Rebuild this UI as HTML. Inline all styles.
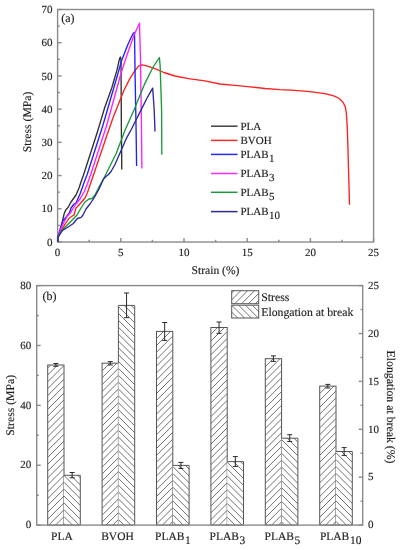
<!DOCTYPE html>
<html><head><meta charset="utf-8"><title>Figure</title>
<style>
html,body{margin:0;padding:0;background:#fff;}
body{width:401px;height:550px;overflow:hidden;}
svg{display:block;}
text{font-family:"Liberation Serif","Times New Roman",serif;font-size:11px;fill:#1e1e1e;stroke:#1e1e1e;stroke-width:0.15px;text-rendering:geometricPrecision;}
</style></head>
<body>
<svg width="401" height="550" viewBox="0 0 401 550">
<rect x="0" y="0" width="401" height="550" fill="#fff"/>
<rect x="57.6" y="9.5" width="316" height="232.5" fill="none" stroke="#8a8a8a" stroke-width="1.4"/>
<line x1="57.6" y1="242" x2="61.6" y2="242" stroke="#8a8a8a" stroke-width="1.4"/>
<line x1="57.6" y1="225.39" x2="59.8" y2="225.39" stroke="#8a8a8a" stroke-width="1.4"/>
<line x1="57.6" y1="208.79" x2="61.6" y2="208.79" stroke="#8a8a8a" stroke-width="1.4"/>
<line x1="57.6" y1="192.18" x2="59.8" y2="192.18" stroke="#8a8a8a" stroke-width="1.4"/>
<line x1="57.6" y1="175.57" x2="61.6" y2="175.57" stroke="#8a8a8a" stroke-width="1.4"/>
<line x1="57.6" y1="158.96" x2="59.8" y2="158.96" stroke="#8a8a8a" stroke-width="1.4"/>
<line x1="57.6" y1="142.36" x2="61.6" y2="142.36" stroke="#8a8a8a" stroke-width="1.4"/>
<line x1="57.6" y1="125.75" x2="59.8" y2="125.75" stroke="#8a8a8a" stroke-width="1.4"/>
<line x1="57.6" y1="109.14" x2="61.6" y2="109.14" stroke="#8a8a8a" stroke-width="1.4"/>
<line x1="57.6" y1="92.54" x2="59.8" y2="92.54" stroke="#8a8a8a" stroke-width="1.4"/>
<line x1="57.6" y1="75.93" x2="61.6" y2="75.93" stroke="#8a8a8a" stroke-width="1.4"/>
<line x1="57.6" y1="59.32" x2="59.8" y2="59.32" stroke="#8a8a8a" stroke-width="1.4"/>
<line x1="57.6" y1="42.71" x2="61.6" y2="42.71" stroke="#8a8a8a" stroke-width="1.4"/>
<line x1="57.6" y1="26.11" x2="59.8" y2="26.11" stroke="#8a8a8a" stroke-width="1.4"/>
<line x1="57.6" y1="9.5" x2="61.6" y2="9.5" stroke="#8a8a8a" stroke-width="1.4"/>
<line x1="57.6" y1="242" x2="57.6" y2="238" stroke="#8a8a8a" stroke-width="1.4"/>
<line x1="89.2" y1="242" x2="89.2" y2="239.8" stroke="#8a8a8a" stroke-width="1.4"/>
<line x1="120.8" y1="242" x2="120.8" y2="238" stroke="#8a8a8a" stroke-width="1.4"/>
<line x1="152.4" y1="242" x2="152.4" y2="239.8" stroke="#8a8a8a" stroke-width="1.4"/>
<line x1="184" y1="242" x2="184" y2="238" stroke="#8a8a8a" stroke-width="1.4"/>
<line x1="215.6" y1="242" x2="215.6" y2="239.8" stroke="#8a8a8a" stroke-width="1.4"/>
<line x1="247.2" y1="242" x2="247.2" y2="238" stroke="#8a8a8a" stroke-width="1.4"/>
<line x1="278.8" y1="242" x2="278.8" y2="239.8" stroke="#8a8a8a" stroke-width="1.4"/>
<line x1="310.4" y1="242" x2="310.4" y2="238" stroke="#8a8a8a" stroke-width="1.4"/>
<line x1="342" y1="242" x2="342" y2="239.8" stroke="#8a8a8a" stroke-width="1.4"/>
<line x1="373.6" y1="242" x2="373.6" y2="238" stroke="#8a8a8a" stroke-width="1.4"/>
<text x="52.5" y="245.6" text-anchor="end">0</text>
<text x="52.5" y="212.39" text-anchor="end">10</text>
<text x="52.5" y="179.17" text-anchor="end">20</text>
<text x="52.5" y="145.96" text-anchor="end">30</text>
<text x="52.5" y="112.74" text-anchor="end">40</text>
<text x="52.5" y="79.53" text-anchor="end">50</text>
<text x="52.5" y="46.31" text-anchor="end">60</text>
<text x="52.5" y="13.1" text-anchor="end">70</text>
<text x="57.6" y="256.2" text-anchor="middle">0</text>
<text x="120.8" y="256.2" text-anchor="middle">5</text>
<text x="184" y="256.2" text-anchor="middle">10</text>
<text x="247.2" y="256.2" text-anchor="middle">15</text>
<text x="310.4" y="256.2" text-anchor="middle">20</text>
<text x="373.6" y="256.2" text-anchor="middle">25</text>
<text x="215.5" y="274" text-anchor="middle" style="font-size:11.6px">Strain (%)</text>
<text transform="translate(31.1,122) rotate(-90)" text-anchor="middle" style="font-size:11.7px">Stress (MPa)</text>
<text x="61.2" y="22.4" style="font-size:12px">(a)</text>
<polyline points="58,242 58,237.2 60.5,229 62.5,221.1 64.3,213.2 65.8,209.9 68,207.5 71,202 76,195 79,188 82,179 83.5,175 98,130 104.5,108.2 111.8,87.8 116.9,70.4 119.6,58.5 120.4,57 121,60 121.4,130 121.8,169.4" fill="none" stroke="#303030" stroke-width="1.35" stroke-linejoin="round"/>
<polyline points="58,242 58,237.2 61,231 64,225.9 68.8,218.5 72.6,215.8 74,215 76,208 79,205 85,198 87.5,192.5 90,185 93.5,175 107,135 113.2,117.3 118.6,103.7 124.1,90 129.6,79.1 134.3,71.6 138.4,66.1 141.8,64.8 145.9,65.7 154.9,68.7 163.9,72.5 175,76 190,78.9 205,80.9 220,84 235,85.3 250,86.8 265,88.5 280,89.7 295,90.3 310,91.7 325,93.7 330,94.9 334.5,96.2 339.2,98.5 343,102.2 345.3,106.9 346.3,112.6 347.2,125.8 347.7,140 349.5,204.7" fill="none" stroke="#ff2020" stroke-width="1.35" stroke-linejoin="round"/>
<polyline points="58,242 58,237.2 60.5,228 62.9,220.7 66.2,217 69.6,212.5 71,208 74,204 76,203 80,194 82.5,187 85,180 87,175 103,125 117.5,75 121.8,60 127.7,45 131.3,37 133.4,33 134.5,32.8 135.1,75 136.1,130 136.6,166" fill="none" stroke="#2020ff" stroke-width="1.35" stroke-linejoin="round"/>
<polyline points="58,242 58,237.2 60.8,229 63.2,223.7 67,216.2 71.1,212.1 72,210 76,204 80,199 84,192 87,185 90.5,175 106.8,125 120.5,75 125.3,60 134,35 139.5,23.2 140.5,60 141.5,130 141.9,168.6" fill="none" stroke="#ff20ff" stroke-width="1.35" stroke-linejoin="round"/>
<polyline points="58,242 58,237.2 61,231.5 64.7,227.4 70,222.2 74.4,217.7 77,215 81,208 85,202 89,199 92,198.5 95,195 99,187 103.5,179 116.2,153.5 125,130.2 134,110 144.4,84.4 153.4,66.5 159.4,57.5 160.1,65 161.6,110 161.8,154.7" fill="none" stroke="#1a9a3a" stroke-width="1.35" stroke-linejoin="round"/>
<polyline points="58,242 58,237.2 62.5,230.4 68.5,226.7 73,223.7 77.4,218.5 81.2,217.3 83,215 86,209 90,204 94,198 99,189 103.5,179 106,176.5 108.5,174.5 111,171.5 115,164.5 122.4,147.4 126.1,138.9 131.4,129.2 135.9,120.3 141.4,109.4 146.8,98.5 150.5,91.8 152.7,88.2 154.2,110 155,131.6" fill="none" stroke="#2a2a9a" stroke-width="1.35" stroke-linejoin="round"/>
<line x1="211" y1="126.2" x2="237.5" y2="126.2" stroke="#404040" stroke-width="1.5"/>
<text x="240.5" y="129.8">PLA</text>
<line x1="211" y1="140.4" x2="237.5" y2="140.4" stroke="#ff2a2a" stroke-width="1.5"/>
<text x="240.5" y="144">BVOH</text>
<line x1="211" y1="154.4" x2="237.5" y2="154.4" stroke="#2a2aff" stroke-width="1.5"/>
<text x="240.5" y="158">PLAB<tspan dx="0.3" dy="4">1</tspan></text>
<line x1="211" y1="173.5" x2="237.5" y2="173.5" stroke="#ff2aff" stroke-width="1.5"/>
<text x="240.5" y="177.1">PLAB<tspan dx="0.3" dy="4">3</tspan></text>
<line x1="211" y1="192.3" x2="237.5" y2="192.3" stroke="#1a9a3a" stroke-width="1.5"/>
<text x="240.5" y="195.9">PLAB<tspan dx="0.3" dy="4">5</tspan></text>
<line x1="211" y1="211.6" x2="237.5" y2="211.6" stroke="#2a2a9a" stroke-width="1.5"/>
<text x="240.5" y="215.2">PLAB<tspan dx="0.3" dy="4">10</tspan></text>
<defs><clipPath id="c0s"><rect x="47.7" y="365" width="16.3" height="160.1"/></clipPath><clipPath id="c0e"><rect x="64" y="475.3" width="16.3" height="49.8"/></clipPath><clipPath id="c1s"><rect x="102.1" y="363.2" width="16.3" height="161.9"/></clipPath><clipPath id="c1e"><rect x="118.4" y="305.4" width="16.3" height="219.7"/></clipPath><clipPath id="c2s"><rect x="156.5" y="331.4" width="16.3" height="193.7"/></clipPath><clipPath id="c2e"><rect x="172.8" y="465.4" width="16.3" height="59.7"/></clipPath><clipPath id="c3s"><rect x="210.9" y="327.5" width="16.3" height="197.6"/></clipPath><clipPath id="c3e"><rect x="227.2" y="461.6" width="16.3" height="63.5"/></clipPath><clipPath id="c4s"><rect x="265.3" y="358.7" width="16.3" height="166.4"/></clipPath><clipPath id="c4e"><rect x="281.6" y="438.2" width="16.3" height="86.9"/></clipPath><clipPath id="c5s"><rect x="319.7" y="386.1" width="16.3" height="139"/></clipPath><clipPath id="c5e"><rect x="336" y="451.5" width="16.3" height="73.6"/></clipPath></defs>
<rect x="47.7" y="365" width="16.3" height="160.1" fill="#fff"/><path clip-path="url(#c0s)" d="M64,248.7L34,278.7M64,255.57L34,285.57M64,262.44L34,292.44M64,269.31L34,299.31M64,276.18L34,306.18M64,283.05L34,313.05M64,289.92L34,319.92M64,296.79L34,326.79M64,303.66L34,333.66M64,310.53L34,340.53M64,317.4L34,347.4M64,324.27L34,354.27M64,331.14L34,361.14M64,338.01L34,368.01M64,344.88L34,374.88M64,351.75L34,381.75M64,358.62L34,388.62M64,365.49L34,395.49M64,372.36L34,402.36M64,379.23L34,409.23M64,386.1L34,416.1M64,392.97L34,422.97M64,399.84L34,429.84M64,406.71L34,436.71M64,413.58L34,443.58M64,420.45L34,450.45M64,427.32L34,457.32M64,434.19L34,464.19M64,441.06L34,471.06M64,447.93L34,477.93M64,454.8L34,484.8M64,461.67L34,491.67M64,468.54L34,498.54M64,475.41L34,505.41M64,482.28L34,512.28M64,489.15L34,519.15M64,496.02L34,526.02M64,502.89L34,532.89M64,509.76L34,539.76M64,516.63L34,546.63M64,523.5L34,553.5M64,530.37L34,560.37M64,537.24L34,567.24" stroke="#606060" stroke-width="0.9" fill="none"/><rect x="47.7" y="365" width="16.3" height="160.1" fill="none" stroke="#555555" stroke-width="1"/><rect x="64" y="475.3" width="16.3" height="49.8" fill="#fff"/><path clip-path="url(#c0e)" d="M64,248.7L94,278.7M64,255.57L94,285.57M64,262.44L94,292.44M64,269.31L94,299.31M64,276.18L94,306.18M64,283.05L94,313.05M64,289.92L94,319.92M64,296.79L94,326.79M64,303.66L94,333.66M64,310.53L94,340.53M64,317.4L94,347.4M64,324.27L94,354.27M64,331.14L94,361.14M64,338.01L94,368.01M64,344.88L94,374.88M64,351.75L94,381.75M64,358.62L94,388.62M64,365.49L94,395.49M64,372.36L94,402.36M64,379.23L94,409.23M64,386.1L94,416.1M64,392.97L94,422.97M64,399.84L94,429.84M64,406.71L94,436.71M64,413.58L94,443.58M64,420.45L94,450.45M64,427.32L94,457.32M64,434.19L94,464.19M64,441.06L94,471.06M64,447.93L94,477.93M64,454.8L94,484.8M64,461.67L94,491.67M64,468.54L94,498.54M64,475.41L94,505.41M64,482.28L94,512.28M64,489.15L94,519.15M64,496.02L94,526.02M64,502.89L94,532.89M64,509.76L94,539.76M64,516.63L94,546.63M64,523.5L94,553.5M64,530.37L94,560.37M64,537.24L94,567.24" stroke="#606060" stroke-width="0.9" fill="none"/><path d="M64,475.3H80.3V525.1H64" fill="none" stroke="#555555" stroke-width="1" stroke-linejoin="miter"/><path d="M55.85,363.5V366.3M53.35,363.5H58.35M53.35,366.3H58.35" stroke="#2a2a2a" stroke-width="1" fill="none"/><path d="M72.15,472.5V477.8M69.65,472.5H74.65M69.65,477.8H74.65" stroke="#2a2a2a" stroke-width="1" fill="none"/><rect x="102.1" y="363.2" width="16.3" height="161.9" fill="#fff"/><path clip-path="url(#c1s)" d="M118.4,244.7L88.4,274.7M118.4,251.57L88.4,281.57M118.4,258.44L88.4,288.44M118.4,265.31L88.4,295.31M118.4,272.18L88.4,302.18M118.4,279.05L88.4,309.05M118.4,285.92L88.4,315.92M118.4,292.79L88.4,322.79M118.4,299.66L88.4,329.66M118.4,306.53L88.4,336.53M118.4,313.4L88.4,343.4M118.4,320.27L88.4,350.27M118.4,327.14L88.4,357.14M118.4,334.01L88.4,364.01M118.4,340.88L88.4,370.88M118.4,347.75L88.4,377.75M118.4,354.62L88.4,384.62M118.4,361.49L88.4,391.49M118.4,368.36L88.4,398.36M118.4,375.23L88.4,405.23M118.4,382.1L88.4,412.1M118.4,388.97L88.4,418.97M118.4,395.84L88.4,425.84M118.4,402.71L88.4,432.71M118.4,409.58L88.4,439.58M118.4,416.45L88.4,446.45M118.4,423.32L88.4,453.32M118.4,430.19L88.4,460.19M118.4,437.06L88.4,467.06M118.4,443.93L88.4,473.93M118.4,450.8L88.4,480.8M118.4,457.67L88.4,487.67M118.4,464.54L88.4,494.54M118.4,471.41L88.4,501.41M118.4,478.28L88.4,508.28M118.4,485.15L88.4,515.15M118.4,492.02L88.4,522.02M118.4,498.89L88.4,528.89M118.4,505.76L88.4,535.76M118.4,512.63L88.4,542.63M118.4,519.5L88.4,549.5M118.4,526.37L88.4,556.37M118.4,533.24L88.4,563.24" stroke="#606060" stroke-width="0.9" fill="none"/><rect x="102.1" y="363.2" width="16.3" height="161.9" fill="none" stroke="#555555" stroke-width="1"/><rect x="118.4" y="305.4" width="16.3" height="219.7" fill="#fff"/><path clip-path="url(#c1e)" d="M118.4,244.7L148.4,274.7M118.4,251.57L148.4,281.57M118.4,258.44L148.4,288.44M118.4,265.31L148.4,295.31M118.4,272.18L148.4,302.18M118.4,279.05L148.4,309.05M118.4,285.92L148.4,315.92M118.4,292.79L148.4,322.79M118.4,299.66L148.4,329.66M118.4,306.53L148.4,336.53M118.4,313.4L148.4,343.4M118.4,320.27L148.4,350.27M118.4,327.14L148.4,357.14M118.4,334.01L148.4,364.01M118.4,340.88L148.4,370.88M118.4,347.75L148.4,377.75M118.4,354.62L148.4,384.62M118.4,361.49L148.4,391.49M118.4,368.36L148.4,398.36M118.4,375.23L148.4,405.23M118.4,382.1L148.4,412.1M118.4,388.97L148.4,418.97M118.4,395.84L148.4,425.84M118.4,402.71L148.4,432.71M118.4,409.58L148.4,439.58M118.4,416.45L148.4,446.45M118.4,423.32L148.4,453.32M118.4,430.19L148.4,460.19M118.4,437.06L148.4,467.06M118.4,443.93L148.4,473.93M118.4,450.8L148.4,480.8M118.4,457.67L148.4,487.67M118.4,464.54L148.4,494.54M118.4,471.41L148.4,501.41M118.4,478.28L148.4,508.28M118.4,485.15L148.4,515.15M118.4,492.02L148.4,522.02M118.4,498.89L148.4,528.89M118.4,505.76L148.4,535.76M118.4,512.63L148.4,542.63M118.4,519.5L148.4,549.5M118.4,526.37L148.4,556.37M118.4,533.24L148.4,563.24" stroke="#606060" stroke-width="0.9" fill="none"/><path d="M118.4,363.2V305.4H134.7V525.1H118.4" fill="none" stroke="#555555" stroke-width="1" stroke-linejoin="miter"/><path d="M110.25,361.6V365M107.75,361.6H112.75M107.75,365H112.75" stroke="#2a2a2a" stroke-width="1" fill="none"/><path d="M126.55,293V317.7M124.05,293H129.05M124.05,317.7H129.05" stroke="#2a2a2a" stroke-width="1" fill="none"/><rect x="156.5" y="331.4" width="16.3" height="193.7" fill="#fff"/><path clip-path="url(#c2s)" d="M172.8,246.7L142.8,276.7M172.8,253.57L142.8,283.57M172.8,260.44L142.8,290.44M172.8,267.31L142.8,297.31M172.8,274.18L142.8,304.18M172.8,281.05L142.8,311.05M172.8,287.92L142.8,317.92M172.8,294.79L142.8,324.79M172.8,301.66L142.8,331.66M172.8,308.53L142.8,338.53M172.8,315.4L142.8,345.4M172.8,322.27L142.8,352.27M172.8,329.14L142.8,359.14M172.8,336.01L142.8,366.01M172.8,342.88L142.8,372.88M172.8,349.75L142.8,379.75M172.8,356.62L142.8,386.62M172.8,363.49L142.8,393.49M172.8,370.36L142.8,400.36M172.8,377.23L142.8,407.23M172.8,384.1L142.8,414.1M172.8,390.97L142.8,420.97M172.8,397.84L142.8,427.84M172.8,404.71L142.8,434.71M172.8,411.58L142.8,441.58M172.8,418.45L142.8,448.45M172.8,425.32L142.8,455.32M172.8,432.19L142.8,462.19M172.8,439.06L142.8,469.06M172.8,445.93L142.8,475.93M172.8,452.8L142.8,482.8M172.8,459.67L142.8,489.67M172.8,466.54L142.8,496.54M172.8,473.41L142.8,503.41M172.8,480.28L142.8,510.28M172.8,487.15L142.8,517.15M172.8,494.02L142.8,524.02M172.8,500.89L142.8,530.89M172.8,507.76L142.8,537.76M172.8,514.63L142.8,544.63M172.8,521.5L142.8,551.5M172.8,528.37L142.8,558.37M172.8,535.24L142.8,565.24" stroke="#606060" stroke-width="0.9" fill="none"/><rect x="156.5" y="331.4" width="16.3" height="193.7" fill="none" stroke="#555555" stroke-width="1"/><rect x="172.8" y="465.4" width="16.3" height="59.7" fill="#fff"/><path clip-path="url(#c2e)" d="M172.8,246.7L202.8,276.7M172.8,253.57L202.8,283.57M172.8,260.44L202.8,290.44M172.8,267.31L202.8,297.31M172.8,274.18L202.8,304.18M172.8,281.05L202.8,311.05M172.8,287.92L202.8,317.92M172.8,294.79L202.8,324.79M172.8,301.66L202.8,331.66M172.8,308.53L202.8,338.53M172.8,315.4L202.8,345.4M172.8,322.27L202.8,352.27M172.8,329.14L202.8,359.14M172.8,336.01L202.8,366.01M172.8,342.88L202.8,372.88M172.8,349.75L202.8,379.75M172.8,356.62L202.8,386.62M172.8,363.49L202.8,393.49M172.8,370.36L202.8,400.36M172.8,377.23L202.8,407.23M172.8,384.1L202.8,414.1M172.8,390.97L202.8,420.97M172.8,397.84L202.8,427.84M172.8,404.71L202.8,434.71M172.8,411.58L202.8,441.58M172.8,418.45L202.8,448.45M172.8,425.32L202.8,455.32M172.8,432.19L202.8,462.19M172.8,439.06L202.8,469.06M172.8,445.93L202.8,475.93M172.8,452.8L202.8,482.8M172.8,459.67L202.8,489.67M172.8,466.54L202.8,496.54M172.8,473.41L202.8,503.41M172.8,480.28L202.8,510.28M172.8,487.15L202.8,517.15M172.8,494.02L202.8,524.02M172.8,500.89L202.8,530.89M172.8,507.76L202.8,537.76M172.8,514.63L202.8,544.63M172.8,521.5L202.8,551.5M172.8,528.37L202.8,558.37M172.8,535.24L202.8,565.24" stroke="#606060" stroke-width="0.9" fill="none"/><path d="M172.8,465.4H189.1V525.1H172.8" fill="none" stroke="#555555" stroke-width="1" stroke-linejoin="miter"/><path d="M164.65,322.5V340.4M162.15,322.5H167.15M162.15,340.4H167.15" stroke="#2a2a2a" stroke-width="1" fill="none"/><path d="M180.95,462.4V468.4M178.45,462.4H183.45M178.45,468.4H183.45" stroke="#2a2a2a" stroke-width="1" fill="none"/><rect x="210.9" y="327.5" width="16.3" height="197.6" fill="#fff"/><path clip-path="url(#c3s)" d="M227.2,249.2L197.2,279.2M227.2,256.07L197.2,286.07M227.2,262.94L197.2,292.94M227.2,269.81L197.2,299.81M227.2,276.68L197.2,306.68M227.2,283.55L197.2,313.55M227.2,290.42L197.2,320.42M227.2,297.29L197.2,327.29M227.2,304.16L197.2,334.16M227.2,311.03L197.2,341.03M227.2,317.9L197.2,347.9M227.2,324.77L197.2,354.77M227.2,331.64L197.2,361.64M227.2,338.51L197.2,368.51M227.2,345.38L197.2,375.38M227.2,352.25L197.2,382.25M227.2,359.12L197.2,389.12M227.2,365.99L197.2,395.99M227.2,372.86L197.2,402.86M227.2,379.73L197.2,409.73M227.2,386.6L197.2,416.6M227.2,393.47L197.2,423.47M227.2,400.34L197.2,430.34M227.2,407.21L197.2,437.21M227.2,414.08L197.2,444.08M227.2,420.95L197.2,450.95M227.2,427.82L197.2,457.82M227.2,434.69L197.2,464.69M227.2,441.56L197.2,471.56M227.2,448.43L197.2,478.43M227.2,455.3L197.2,485.3M227.2,462.17L197.2,492.17M227.2,469.04L197.2,499.04M227.2,475.91L197.2,505.91M227.2,482.78L197.2,512.78M227.2,489.65L197.2,519.65M227.2,496.52L197.2,526.52M227.2,503.39L197.2,533.39M227.2,510.26L197.2,540.26M227.2,517.13L197.2,547.13M227.2,524L197.2,554M227.2,530.87L197.2,560.87M227.2,537.74L197.2,567.74" stroke="#606060" stroke-width="0.9" fill="none"/><rect x="210.9" y="327.5" width="16.3" height="197.6" fill="none" stroke="#555555" stroke-width="1"/><rect x="227.2" y="461.6" width="16.3" height="63.5" fill="#fff"/><path clip-path="url(#c3e)" d="M227.2,249.2L257.2,279.2M227.2,256.07L257.2,286.07M227.2,262.94L257.2,292.94M227.2,269.81L257.2,299.81M227.2,276.68L257.2,306.68M227.2,283.55L257.2,313.55M227.2,290.42L257.2,320.42M227.2,297.29L257.2,327.29M227.2,304.16L257.2,334.16M227.2,311.03L257.2,341.03M227.2,317.9L257.2,347.9M227.2,324.77L257.2,354.77M227.2,331.64L257.2,361.64M227.2,338.51L257.2,368.51M227.2,345.38L257.2,375.38M227.2,352.25L257.2,382.25M227.2,359.12L257.2,389.12M227.2,365.99L257.2,395.99M227.2,372.86L257.2,402.86M227.2,379.73L257.2,409.73M227.2,386.6L257.2,416.6M227.2,393.47L257.2,423.47M227.2,400.34L257.2,430.34M227.2,407.21L257.2,437.21M227.2,414.08L257.2,444.08M227.2,420.95L257.2,450.95M227.2,427.82L257.2,457.82M227.2,434.69L257.2,464.69M227.2,441.56L257.2,471.56M227.2,448.43L257.2,478.43M227.2,455.3L257.2,485.3M227.2,462.17L257.2,492.17M227.2,469.04L257.2,499.04M227.2,475.91L257.2,505.91M227.2,482.78L257.2,512.78M227.2,489.65L257.2,519.65M227.2,496.52L257.2,526.52M227.2,503.39L257.2,533.39M227.2,510.26L257.2,540.26M227.2,517.13L257.2,547.13M227.2,524L257.2,554M227.2,530.87L257.2,560.87M227.2,537.74L257.2,567.74" stroke="#606060" stroke-width="0.9" fill="none"/><path d="M227.2,461.6H243.5V525.1H227.2" fill="none" stroke="#555555" stroke-width="1" stroke-linejoin="miter"/><path d="M219.05,322V333.4M216.55,322H221.55M216.55,333.4H221.55" stroke="#2a2a2a" stroke-width="1" fill="none"/><path d="M235.35,456.6V466.4M232.85,456.6H237.85M232.85,466.4H237.85" stroke="#2a2a2a" stroke-width="1" fill="none"/><rect x="265.3" y="358.7" width="16.3" height="166.4" fill="#fff"/><path clip-path="url(#c4s)" d="M281.6,247.2L251.6,277.2M281.6,254.07L251.6,284.07M281.6,260.94L251.6,290.94M281.6,267.81L251.6,297.81M281.6,274.68L251.6,304.68M281.6,281.55L251.6,311.55M281.6,288.42L251.6,318.42M281.6,295.29L251.6,325.29M281.6,302.16L251.6,332.16M281.6,309.03L251.6,339.03M281.6,315.9L251.6,345.9M281.6,322.77L251.6,352.77M281.6,329.64L251.6,359.64M281.6,336.51L251.6,366.51M281.6,343.38L251.6,373.38M281.6,350.25L251.6,380.25M281.6,357.12L251.6,387.12M281.6,363.99L251.6,393.99M281.6,370.86L251.6,400.86M281.6,377.73L251.6,407.73M281.6,384.6L251.6,414.6M281.6,391.47L251.6,421.47M281.6,398.34L251.6,428.34M281.6,405.21L251.6,435.21M281.6,412.08L251.6,442.08M281.6,418.95L251.6,448.95M281.6,425.82L251.6,455.82M281.6,432.69L251.6,462.69M281.6,439.56L251.6,469.56M281.6,446.43L251.6,476.43M281.6,453.3L251.6,483.3M281.6,460.17L251.6,490.17M281.6,467.04L251.6,497.04M281.6,473.91L251.6,503.91M281.6,480.78L251.6,510.78M281.6,487.65L251.6,517.65M281.6,494.52L251.6,524.52M281.6,501.39L251.6,531.39M281.6,508.26L251.6,538.26M281.6,515.13L251.6,545.13M281.6,522L251.6,552M281.6,528.87L251.6,558.87M281.6,535.74L251.6,565.74" stroke="#606060" stroke-width="0.9" fill="none"/><rect x="265.3" y="358.7" width="16.3" height="166.4" fill="none" stroke="#555555" stroke-width="1"/><rect x="281.6" y="438.2" width="16.3" height="86.9" fill="#fff"/><path clip-path="url(#c4e)" d="M281.6,247.2L311.6,277.2M281.6,254.07L311.6,284.07M281.6,260.94L311.6,290.94M281.6,267.81L311.6,297.81M281.6,274.68L311.6,304.68M281.6,281.55L311.6,311.55M281.6,288.42L311.6,318.42M281.6,295.29L311.6,325.29M281.6,302.16L311.6,332.16M281.6,309.03L311.6,339.03M281.6,315.9L311.6,345.9M281.6,322.77L311.6,352.77M281.6,329.64L311.6,359.64M281.6,336.51L311.6,366.51M281.6,343.38L311.6,373.38M281.6,350.25L311.6,380.25M281.6,357.12L311.6,387.12M281.6,363.99L311.6,393.99M281.6,370.86L311.6,400.86M281.6,377.73L311.6,407.73M281.6,384.6L311.6,414.6M281.6,391.47L311.6,421.47M281.6,398.34L311.6,428.34M281.6,405.21L311.6,435.21M281.6,412.08L311.6,442.08M281.6,418.95L311.6,448.95M281.6,425.82L311.6,455.82M281.6,432.69L311.6,462.69M281.6,439.56L311.6,469.56M281.6,446.43L311.6,476.43M281.6,453.3L311.6,483.3M281.6,460.17L311.6,490.17M281.6,467.04L311.6,497.04M281.6,473.91L311.6,503.91M281.6,480.78L311.6,510.78M281.6,487.65L311.6,517.65M281.6,494.52L311.6,524.52M281.6,501.39L311.6,531.39M281.6,508.26L311.6,538.26M281.6,515.13L311.6,545.13M281.6,522L311.6,552M281.6,528.87L311.6,558.87M281.6,535.74L311.6,565.74" stroke="#606060" stroke-width="0.9" fill="none"/><path d="M281.6,438.2H297.9V525.1H281.6" fill="none" stroke="#555555" stroke-width="1" stroke-linejoin="miter"/><path d="M273.45,355.9V361.4M270.95,355.9H275.95M270.95,361.4H275.95" stroke="#2a2a2a" stroke-width="1" fill="none"/><path d="M289.75,434.7V441.5M287.25,434.7H292.25M287.25,441.5H292.25" stroke="#2a2a2a" stroke-width="1" fill="none"/><rect x="319.7" y="386.1" width="16.3" height="139" fill="#fff"/><path clip-path="url(#c5s)" d="M336,246.7L306,276.7M336,253.57L306,283.57M336,260.44L306,290.44M336,267.31L306,297.31M336,274.18L306,304.18M336,281.05L306,311.05M336,287.92L306,317.92M336,294.79L306,324.79M336,301.66L306,331.66M336,308.53L306,338.53M336,315.4L306,345.4M336,322.27L306,352.27M336,329.14L306,359.14M336,336.01L306,366.01M336,342.88L306,372.88M336,349.75L306,379.75M336,356.62L306,386.62M336,363.49L306,393.49M336,370.36L306,400.36M336,377.23L306,407.23M336,384.1L306,414.1M336,390.97L306,420.97M336,397.84L306,427.84M336,404.71L306,434.71M336,411.58L306,441.58M336,418.45L306,448.45M336,425.32L306,455.32M336,432.19L306,462.19M336,439.06L306,469.06M336,445.93L306,475.93M336,452.8L306,482.8M336,459.67L306,489.67M336,466.54L306,496.54M336,473.41L306,503.41M336,480.28L306,510.28M336,487.15L306,517.15M336,494.02L306,524.02M336,500.89L306,530.89M336,507.76L306,537.76M336,514.63L306,544.63M336,521.5L306,551.5M336,528.37L306,558.37M336,535.24L306,565.24" stroke="#606060" stroke-width="0.9" fill="none"/><rect x="319.7" y="386.1" width="16.3" height="139" fill="none" stroke="#555555" stroke-width="1"/><rect x="336" y="451.5" width="16.3" height="73.6" fill="#fff"/><path clip-path="url(#c5e)" d="M336,246.7L366,276.7M336,253.57L366,283.57M336,260.44L366,290.44M336,267.31L366,297.31M336,274.18L366,304.18M336,281.05L366,311.05M336,287.92L366,317.92M336,294.79L366,324.79M336,301.66L366,331.66M336,308.53L366,338.53M336,315.4L366,345.4M336,322.27L366,352.27M336,329.14L366,359.14M336,336.01L366,366.01M336,342.88L366,372.88M336,349.75L366,379.75M336,356.62L366,386.62M336,363.49L366,393.49M336,370.36L366,400.36M336,377.23L366,407.23M336,384.1L366,414.1M336,390.97L366,420.97M336,397.84L366,427.84M336,404.71L366,434.71M336,411.58L366,441.58M336,418.45L366,448.45M336,425.32L366,455.32M336,432.19L366,462.19M336,439.06L366,469.06M336,445.93L366,475.93M336,452.8L366,482.8M336,459.67L366,489.67M336,466.54L366,496.54M336,473.41L366,503.41M336,480.28L366,510.28M336,487.15L366,517.15M336,494.02L366,524.02M336,500.89L366,530.89M336,507.76L366,537.76M336,514.63L366,544.63M336,521.5L366,551.5M336,528.37L366,558.37M336,535.24L366,565.24" stroke="#606060" stroke-width="0.9" fill="none"/><path d="M336,451.5H352.3V525.1H336" fill="none" stroke="#555555" stroke-width="1" stroke-linejoin="miter"/><path d="M327.85,384.4V388M325.35,384.4H330.35M325.35,388H330.35" stroke="#2a2a2a" stroke-width="1" fill="none"/><path d="M344.15,447.6V455.4M341.65,447.6H346.65M341.65,455.4H346.65" stroke="#2a2a2a" stroke-width="1" fill="none"/>
<rect x="36.7" y="285.6" width="326" height="239.5" fill="none" stroke="#8a8a8a" stroke-width="1.4"/>
<line x1="36.7" y1="525.1" x2="40.7" y2="525.1" stroke="#8a8a8a" stroke-width="1.4"/>
<line x1="36.7" y1="495.16" x2="38.9" y2="495.16" stroke="#8a8a8a" stroke-width="1.4"/>
<line x1="36.7" y1="465.23" x2="40.7" y2="465.23" stroke="#8a8a8a" stroke-width="1.4"/>
<line x1="36.7" y1="435.29" x2="38.9" y2="435.29" stroke="#8a8a8a" stroke-width="1.4"/>
<line x1="36.7" y1="405.35" x2="40.7" y2="405.35" stroke="#8a8a8a" stroke-width="1.4"/>
<line x1="36.7" y1="375.41" x2="38.9" y2="375.41" stroke="#8a8a8a" stroke-width="1.4"/>
<line x1="36.7" y1="345.48" x2="40.7" y2="345.48" stroke="#8a8a8a" stroke-width="1.4"/>
<line x1="36.7" y1="315.54" x2="38.9" y2="315.54" stroke="#8a8a8a" stroke-width="1.4"/>
<line x1="36.7" y1="285.6" x2="40.7" y2="285.6" stroke="#8a8a8a" stroke-width="1.4"/>
<line x1="362.7" y1="525.1" x2="358.7" y2="525.1" stroke="#8a8a8a" stroke-width="1.4"/>
<line x1="362.7" y1="501.15" x2="360.5" y2="501.15" stroke="#8a8a8a" stroke-width="1.4"/>
<line x1="362.7" y1="477.2" x2="358.7" y2="477.2" stroke="#8a8a8a" stroke-width="1.4"/>
<line x1="362.7" y1="453.25" x2="360.5" y2="453.25" stroke="#8a8a8a" stroke-width="1.4"/>
<line x1="362.7" y1="429.3" x2="358.7" y2="429.3" stroke="#8a8a8a" stroke-width="1.4"/>
<line x1="362.7" y1="405.35" x2="360.5" y2="405.35" stroke="#8a8a8a" stroke-width="1.4"/>
<line x1="362.7" y1="381.4" x2="358.7" y2="381.4" stroke="#8a8a8a" stroke-width="1.4"/>
<line x1="362.7" y1="357.45" x2="360.5" y2="357.45" stroke="#8a8a8a" stroke-width="1.4"/>
<line x1="362.7" y1="333.5" x2="358.7" y2="333.5" stroke="#8a8a8a" stroke-width="1.4"/>
<line x1="362.7" y1="309.55" x2="360.5" y2="309.55" stroke="#8a8a8a" stroke-width="1.4"/>
<line x1="362.7" y1="285.6" x2="358.7" y2="285.6" stroke="#8a8a8a" stroke-width="1.4"/>
<text x="31.2" y="528.3" text-anchor="end">0</text>
<text x="31.2" y="468.43" text-anchor="end">20</text>
<text x="31.2" y="408.55" text-anchor="end">40</text>
<text x="31.2" y="348.68" text-anchor="end">60</text>
<text x="31.2" y="288.8" text-anchor="end">80</text>
<text x="368.0" y="528.3">0</text>
<text x="368.0" y="480.4">5</text>
<text x="368.0" y="432.5">10</text>
<text x="368.0" y="384.6">15</text>
<text x="368.0" y="336.7">20</text>
<text x="368.0" y="288.8">25</text>
<text transform="translate(14.1,405.3) rotate(-90)" text-anchor="middle" style="font-size:11.7px">Stress (MPa)</text>
<text transform="translate(387,407) rotate(90)" text-anchor="middle" style="font-size:11.8px">Elongation at break (%)</text>
<text x="42.6" y="300" style="font-size:12px">(b)</text>
<clipPath id="lg1"><rect x="231.7" y="290.7" width="27" height="13"/></clipPath><rect x="231.7" y="290.7" width="27" height="13" fill="#fff"/><path clip-path="url(#lg1)" d="M193.48,303.7L206.48,290.7M200.35,303.7L213.35,290.7M207.22,303.7L220.22,290.7M214.09,303.7L227.09,290.7M220.96,303.7L233.96,290.7M227.83,303.7L240.83,290.7M234.7,303.7L247.7,290.7M241.57,303.7L254.57,290.7M248.44,303.7L261.44,290.7M255.31,303.7L268.31,290.7M262.18,303.7L275.18,290.7M269.05,303.7L282.05,290.7M275.92,303.7L288.92,290.7M282.79,303.7L295.79,290.7M289.66,303.7L302.66,290.7M296.53,303.7L309.53,290.7M303.4,303.7L316.4,290.7M310.27,303.7L323.27,290.7" stroke="#606060" stroke-width="0.9" fill="none"/><rect x="231.7" y="290.7" width="27" height="13" fill="none" stroke="#555555" stroke-width="1"/>
<clipPath id="lg2"><rect x="231.7" y="305.2" width="27" height="12.8"/></clipPath><rect x="231.7" y="305.2" width="27" height="12.8" fill="#fff"/><path clip-path="url(#lg2)" d="M190.48,305.2L203.28,318M197.35,305.2L210.15,318M204.22,305.2L217.02,318M211.09,305.2L223.89,318M217.96,305.2L230.76,318M224.83,305.2L237.63,318M231.7,305.2L244.5,318M238.57,305.2L251.37,318M245.44,305.2L258.24,318M252.31,305.2L265.11,318M259.18,305.2L271.98,318M266.05,305.2L278.85,318M272.92,305.2L285.72,318M279.79,305.2L292.59,318M286.66,305.2L299.46,318M293.53,305.2L306.33,318M300.4,305.2L313.2,318M307.27,305.2L320.07,318" stroke="#606060" stroke-width="0.9" fill="none"/><rect x="231.7" y="305.2" width="27" height="12.8" fill="none" stroke="#555555" stroke-width="1"/>
<text x="261.3" y="300.8" style="font-size:11.75px">Stress</text>
<text x="261.3" y="315.5" style="font-size:11.75px">Elongation at break</text>
<text x="51" y="539.8" style="font-size:11.5px">PLA</text>
<text x="101.2" y="539.8" style="font-size:11.5px">BVOH</text>
<text x="155" y="539.8" style="font-size:11.5px">PLAB<tspan dx="0.6" dy="4.6">1</tspan></text>
<text x="209.6" y="539.8" style="font-size:11.5px">PLAB<tspan dx="0.6" dy="4.6">3</tspan></text>
<text x="264.6" y="539.8" style="font-size:11.5px">PLAB<tspan dx="0.6" dy="4.6">5</tspan></text>
<text x="319.9" y="539.8" style="font-size:11.5px">PLAB<tspan dx="0.6" dy="4.6">10</tspan></text>
</svg>
</body></html>
